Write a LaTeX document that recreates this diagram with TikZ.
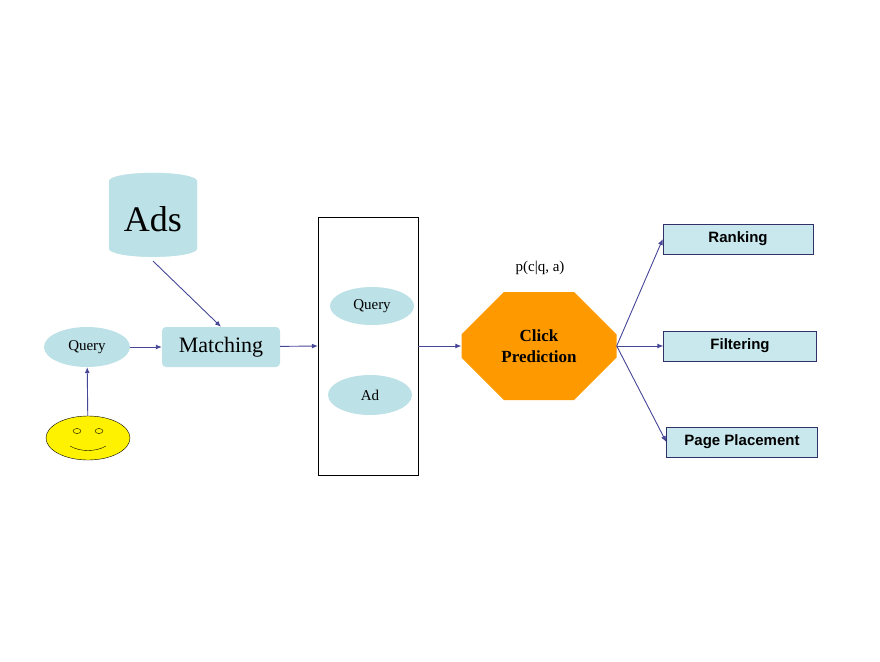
\documentclass[tikz,border=0pt]{standalone}
\usepackage{fontspec}
\setmainfont{Liberation Serif}
\newfontfamily\sansf{Liberation Sans}
\usetikzlibrary{shapes.geometric,shapes.misc,arrows.meta}
\definecolor{lblue}{RGB}{188,225,230}
\definecolor{lbluetop}{RGB}{206,234,238}
\definecolor{boxblue}{RGB}{200,232,238}
\definecolor{arrowc}{RGB}{70,70,150}
\definecolor{octo}{RGB}{255,153,0}
\tikzset{
  bub/.style={ellipse,fill=lblue,minimum width=86pt,minimum height=40pt,inner sep=0pt,font=\fontsize{15}{15}\selectfont},
  outbox/.style={draw=arrowc!70!black,fill=boxblue,minimum width=150pt,minimum height=30pt,inner sep=0pt,font=\sansf\bfseries\fontsize{15}{15}\selectfont},
  conn/.style={arrowc,line width=0.9pt,-{Latex[length=6pt,width=5pt]}}
}
\begin{document}
\begin{tikzpicture}[x=1pt,y=-1pt]
\useasboundingbox (0,0) rectangle (880,661);
% Ads database
\node[cylinder,shape border rotate=90,aspect=0.28,fill=lblue,minimum width=88pt,minimum height=84pt,inner sep=0pt,
  cylinder uses custom fill,cylinder body fill=lblue,cylinder end fill=lbluetop,font=\fontsize{36}{36}\selectfont] (ads) at (153,219) {Ads};
% left side
\node[bub] (q) at (87,347) {Query};
\node[ellipse,draw=black,fill=yellow,minimum width=84pt,minimum height=44pt] (smile) at (88,438) {};
\draw (77,431) ellipse (4pt and 2.5pt) (99,431) ellipse (4pt and 2.5pt);
\draw (70,446) .. controls (80,452) and (96,452) .. (106,446);
\node[fill=lblue,rounded corners=4pt,minimum width=118pt,minimum height=40pt,inner sep=0pt,font=\fontsize{22}{22}\selectfont] (match) at (221,347) {Matching};
% candidate box
\node[draw=black,minimum width=100pt,minimum height=258pt,inner sep=0pt] (cand) at (368,346) {};
\node[bub,minimum width=84pt,minimum height=38pt] (cq) at (372,306) {Query};
\node[bub,minimum width=84pt,minimum height=40pt] (cad) at (370,395) {Ad};
% click prediction
\node[chamfered rectangle,chamfered rectangle xsep=28pt,chamfered rectangle ysep=26pt,fill=octo,minimum width=155pt,minimum height=108pt,inner sep=0pt,align=center,font=\bfseries\fontsize{17}{21}\selectfont] (click) at (539,346) {Click\\Prediction};
\node[font=\fontsize{15}{15}\selectfont] (p) at (540,268) {p(c|q, a)};
% outputs
\node[outbox] (rank) at (738,239) {Ranking};
\node[outbox,minimum width=153pt] (filt) at (740,346) {Filtering};
\node[outbox,minimum width=151pt] (page) at (742,442) {Page Placement};
% connectors
\draw[conn] (smile) -- (q);
\draw[conn] (q) -- (match);
\draw[conn] (ads.south) ++(0,4) coordinate (adsb) -- (match.north);
\draw[conn] (match) -- (cand.west);
\draw[conn] (cand.east) -- (click.west);
\draw[conn] (click.east) -- (rank.west);
\draw[conn] (click.east) -- (filt.west);
\draw[conn] (click.east) -- (page.west);
\end{tikzpicture}
\end{document}
